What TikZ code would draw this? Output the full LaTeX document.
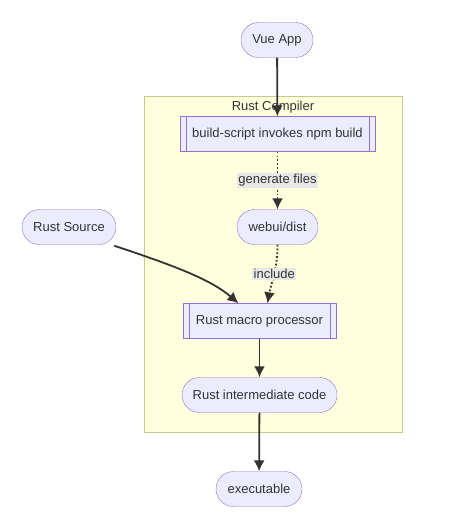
\documentclass[tikz,border=0pt]{standalone}
\usepackage{fontspec}
\setmainfont{Liberation Sans}
\usetikzlibrary{arrows.meta}
\definecolor{boxfill}{HTML}{ECECFF}
\definecolor{boxline}{HTML}{9370DB}
\definecolor{clusterfill}{HTML}{FFFFDE}
\definecolor{clusterline}{HTML}{C8C88A}
\definecolor{edgecol}{HTML}{333333}
\definecolor{labelbg}{HTML}{E8E8E8}
\tikzset{
  stadium/.style={draw=boxline, fill=boxfill, rounded corners=17.5pt, minimum height=35pt, inner xsep=8pt, text=edgecol},
  subroutine/.style={draw=boxline, fill=boxfill, minimum height=35pt, text=edgecol},
  edge/.style={draw=edgecol, line width=1.8pt, -{Latex[length=11pt,width=11pt]}},
  dotedge/.style={edge, dotted},
  edgelabel/.style={fill=labelbg, inner sep=1.5pt, text=edgecol}
}
\begin{document}
\begin{tikzpicture}[x=1pt, y=-1pt, font=\fontsize{13}{15}\selectfont]
    \useasboundingbox (0,0) rectangle (474,513);
    % cluster
    \draw[draw=clusterline, fill=clusterfill] (144,96) rectangle (402,432);
    \node[text=edgecol] (cc) at (273,107) {Rust Compiler};
    % nodes
    \node[stadium, minimum width=72pt] (vue) at (277,40) {Vue App};
    \node[subroutine, minimum width=195pt] (bs) at (277.5,134) {build-script invokes npm build};
    \draw[boxline] ([xshift=6]bs.north west) -- ([xshift=6]bs.south west);
    \draw[boxline] ([xshift=-6]bs.north east) -- ([xshift=-6]bs.south east);
    \node[stadium, minimum width=81pt] (wd) at (277.5,227) {webui/dist};
    \node[stadium, minimum width=94pt] (rs) at (69,227) {Rust Source};
    \node[subroutine, minimum width=153pt] (rmp) at (259.5,321) {Rust macro processor};
    \draw[boxline] ([xshift=6]rmp.north west) -- ([xshift=6]rmp.south west);
    \draw[boxline] ([xshift=-6]rmp.north east) -- ([xshift=-6]rmp.south east);
    \node[stadium, minimum width=155pt] (ric) at (259.5,395) {Rust intermediate code};
    \node[stadium, minimum width=86pt] (exe) at (259,489) {executable};
    % edges
    \draw[edge] (vue) -- (bs);
    \draw[dotedge] (bs) -- node[edgelabel]{generate files} (wd);
    \draw[dotedge] (wd.south) .. controls +(0,25) and +(4,-22) .. node[edgelabel, pos=0.48]{include} ([xshift=8]rmp.north);
    \draw[edge] ([xshift=-2,yshift=-1]rs.south east) .. controls +(60,20) and +(-28,-24) .. ([xshift=-21]rmp.north);
    \draw[edge] (rmp) -- (ric);
    \draw[edge] (ric) -- (exe);
\end{tikzpicture}
\end{document}
